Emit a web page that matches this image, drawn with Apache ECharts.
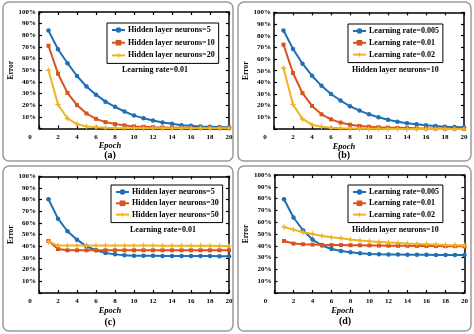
<!DOCTYPE html>
<html>
<head>
<meta charset="utf-8">
<script src="https://cdn.jsdelivr.net/npm/echarts@6/dist/echarts.min.js"></script>
<style>
  html, body { margin: 0; padding: 0; background: #fff; }
  #chart { width: 474px; height: 334px; }
</style>
</head>
<body>
<div id="chart"></div>
<script>
// Training error per epoch for four experiments
const epochs = [1,2,3,4,5,6,7,8,9,10,11,12,13,14,15,16,17,18,19,20];
const xTicks = [0,2,4,6,8,10,12,14,16,18,20];
const yTickLabels = ['10%','20%','30%','40%','50%','60%','70%','80%','90%','100%'];

// (a) learning rate 0.01, varying hidden neurons
const aNeurons5  = [84,68,56,45,36,29,23,18.5,14.5,11,8.8,6.8,5.1,4,2.8,2.3,1.7,1.4,1.1,0.9];
const aNeurons10 = [71,47,30.5,20,12.8,8.2,5.4,3.7,2.6,1.7,1.4,1.0,0.8,0.6,0.5,0.4,0.3,0.3,0.2,0.2];
const aNeurons20 = [50,20.5,8.5,3.7,1.7,0.9,0.5,0.3,0.2,0.2,0.1,0.1,0.1,0.1,0.1,0.1,0.1,0.1,0.1,0.1];

// (b) 10 hidden neurons, varying learning rate
const bRate005 = [84.5,68.7,56,45.7,37,30,24.4,19.5,15.8,12.6,10,8,6.3,4.9,4,3.2,2.6,2,1.7,1.4];
const bRate01  = [72.4,48,30.7,19.8,12.6,8.3,5.5,3.7,2.6,2,1.5,1.2,1,0.8,0.6,0.5,0.4,0.3,0.3,0.2];
const bRate02  = [52.3,21,8.6,3.7,2,1.1,0.7,0.5,0.3,0.2,0.2,0.1,0.1,0.1,0.1,0.1,0.1,0.1,0.1,0.1];

// (c) learning rate 0.01, larger networks
const cNeurons5  = [80.3,63.7,52.9,45.7,40,36.6,34.3,33.1,32.3,32,32,31.9,31.8,31.8,31.7,31.7,31.6,31.6,31.5,31.4];
const cNeurons30 = [44.6,37.7,36.6,36.6,36.6,36.6,36.6,36.6,36.6,36.6,36.6,36.6,36.6,36.6,36.6,36.6,36.6,36.6,36.6,36.6];
const cNeurons50 = [44,40.6,40.6,40.6,40.6,40.6,40.6,40.6,40.6,40.6,40.6,40.6,40.5,40.5,40.5,40.4,40.4,40.4,40.3,40.3];

// (d) 10 hidden neurons, varying learning rate
const dRate005 = [79.5,64,53.2,45.3,40.2,37.3,35.6,34.5,33.7,33.1,32.8,32.7,32.6,32.5,32.4,32.4,32.3,32.3,32.2,32.2];
const dRate01  = [44.1,41.9,41.3,41,40.8,40.7,40.6,40.5,40.4,40.3,40.2,40.1,40,40,39.9,39.8,39.8,39.7,39.7,39.6];
const dRate02  = [56,53.7,51.5,50,48.4,47.2,46.4,45.3,44.4,43.8,43.3,42.7,42.4,41.9,41.6,41.3,41,40.7,40.5,40.2];

const panels = [
  { caption: '(a)', note: 'Learning rate=0.01',
    names: ['Hidden layer neurons=5','Hidden layer neurons=10','Hidden layer neurons=20'],
    values: [aNeurons5, aNeurons10, aNeurons20] },
  { caption: '(b)', note: 'Hidden layer neurons=10',
    names: ['Learning rate=0.005','Learning rate=0.01','Learning rate=0.02'],
    values: [bRate005, bRate01, bRate02] },
  { caption: '(c)', note: 'Learning rate=0.01',
    names: ['Hidden layer neurons=5','Hidden layer neurons=30','Hidden layer neurons=50'],
    values: [cNeurons5, cNeurons30, cNeurons50] },
  { caption: '(d)', note: 'Hidden layer neurons=10',
    names: ['Learning rate=0.005','Learning rate=0.01','Learning rate=0.02'],
    values: [dRate005, dRate01, dRate02] }
];

const FONT = '"Liberation Serif", "Times New Roman", serif';
const COLORS = ['#1f6fb4', '#d9531c', '#f0b323'];
const STAR = 'path://M0,-10 L2.6,-2.6 L10,0 L2.6,2.6 L0,10 L-2.6,2.6 L-10,0 L-2.6,-2.6 Z';
const SYMBOLS = ['circle', 'rect', STAR];
const SYMBOL_SIZES = [4.5, 4, 7];

// layout of each panel: frame, plot area, legend, note, caption
const layout = [
  { frame: [3, 2, 230, 159],   grid: [39, 12, 190, 116.4],   legend: [107, 23], legendGap: 4.7, note: [122, 70],  caption: [110, 155], epochShift: 24 },
  { frame: [238, 2, 233, 159], grid: [274, 12.4, 190, 116.6], legend: [348, 24], legendGap: 3.8, note: [352, 70],  caption: [344, 155], epochShift: 25 },
  { frame: [3, 166, 230, 165], grid: [39, 176.3, 190, 116.7], legend: [111, 185], legendGap: 3.3, note: [130, 230], caption: [110, 322], epochShift: 24 },
  { frame: [238, 166, 233, 165], grid: [274.5, 175, 190, 118], legend: [348, 185], legendGap: 3.3, note: [352, 230], caption: [345, 321], epochShift: 27 }
];

const axisLineStyle = { color: '#000', width: 1.5 };
const tickStyle = { show: true, inside: true, length: 3, lineStyle: { color: '#000', width: 1.2 } };
const labelFont = { fontFamily: FONT, fontWeight: 'bold', fontSize: 7, color: '#000' };

const grid = [], xAxis = [], yAxis = [], series = [], legend = [], graphic = [];

panels.forEach((p, i) => {
  const L = layout[i];
  grid.push({ left: L.grid[0], top: L.grid[1], width: L.grid[2], height: L.grid[3] });

  // bottom axis with labels, top mirror with ticks only
  xAxis.push({
    gridIndex: i, type: 'value', position: 'bottom', min: 0, max: 20, interval: 2,
    axisLine: { show: true, onZero: false, lineStyle: axisLineStyle },
    axisTick: tickStyle, splitLine: { show: false },
    axisLabel: Object.assign({}, labelFont, {
      margin: 5,
      formatter: v => xTicks.includes(v) ? (v === 0 ? '{z|0}' : String(v)) : '',
      rich: { z: Object.assign({}, labelFont, { padding: [0, 18, 0, 0] }) }
    }),
    name: 'Epoch', nameLocation: 'middle', nameGap: 12,
    nameTextStyle: { fontFamily: FONT, fontWeight: 'bold', fontStyle: 'italic', fontSize: 8.5, color: '#000',
                     padding: [0, L.epochShift * 2, 0, 0] }
  });
  xAxis.push({
    gridIndex: i, type: 'value', position: 'top', min: 0, max: 20, interval: 2,
    axisLine: { show: true, onZero: false, lineStyle: axisLineStyle },
    axisTick: tickStyle, axisLabel: { show: false }, splitLine: { show: false }
  });

  // left axis with percent labels, right mirror with ticks only
  yAxis.push({
    gridIndex: i, type: 'value', position: 'left', min: 0, max: 100, interval: 10,
    axisLine: { show: true, onZero: false, lineStyle: axisLineStyle },
    axisTick: tickStyle, splitLine: { show: false },
    axisLabel: Object.assign({}, labelFont, {
      margin: 3,
      formatter: v => v === 0 ? '' : yTickLabels[v / 10 - 1]
    }),
    name: 'Error', nameLocation: 'middle', nameGap: 23,
    nameTextStyle: { fontFamily: FONT, fontWeight: 'bold', fontSize: 7.5, color: '#000' }
  });
  yAxis.push({
    gridIndex: i, type: 'value', position: 'right', min: 0, max: 100, interval: 10,
    axisLine: { show: true, onZero: false, lineStyle: axisLineStyle },
    axisTick: tickStyle, axisLabel: { show: false }, splitLine: { show: false }
  });

  p.names.forEach((name, k) => {
    series.push({
      type: 'line', name: name,
      xAxisIndex: i * 2, yAxisIndex: i * 2,
      data: epochs.map((e, j) => [e, p.values[k][j]]),
      symbol: SYMBOLS[k], symbolSize: SYMBOL_SIZES[k], showSymbol: true,
      color: COLORS[k],
      lineStyle: { width: 2, color: COLORS[k] },
      itemStyle: { color: COLORS[k] },
      animation: false, z: 2 + k
    });
  });

  legend.push({
    orient: 'vertical', left: L.legend[0], top: L.legend[1],
    data: p.names, selectedMode: false,
    itemWidth: 13, itemHeight: 7, itemGap: L.legendGap,
    padding: [3, 4, 4, 4],
    backgroundColor: '#fff', borderColor: '#000', borderWidth: 1, borderRadius: 0,
    textStyle: { fontFamily: FONT, fontWeight: 'bold', fontSize: 8, color: '#000', padding: [0, 0, 0, -2] }
  });

  // rounded panel frame
  graphic.push({
    type: 'rect', silent: true, z: 0,
    shape: { x: L.frame[0], y: L.frame[1], width: L.frame[2], height: L.frame[3], r: 6 },
    style: { fill: 'none', stroke: '#9a9a9a', lineWidth: 1.5 }
  });
  graphic.push({
    type: 'text', silent: true, z: 10,
    x: L.note[0], y: L.note[1],
    style: { text: p.note, font: 'bold 8px ' + FONT, fill: '#000', verticalAlign: 'middle' }
  });
  graphic.push({
    type: 'text', silent: true, z: 10,
    x: L.caption[0], y: L.caption[1],
    style: { text: p.caption, font: 'bold 10px ' + FONT, fill: '#000', align: 'center', verticalAlign: 'middle' }
  });
});

const chart = echarts.init(document.getElementById('chart'), null, { renderer: 'canvas' });
chart.setOption({
  backgroundColor: '#fff',
  animation: false,
  grid, xAxis, yAxis, series, legend, graphic
});
</script>
</body>
</html>
